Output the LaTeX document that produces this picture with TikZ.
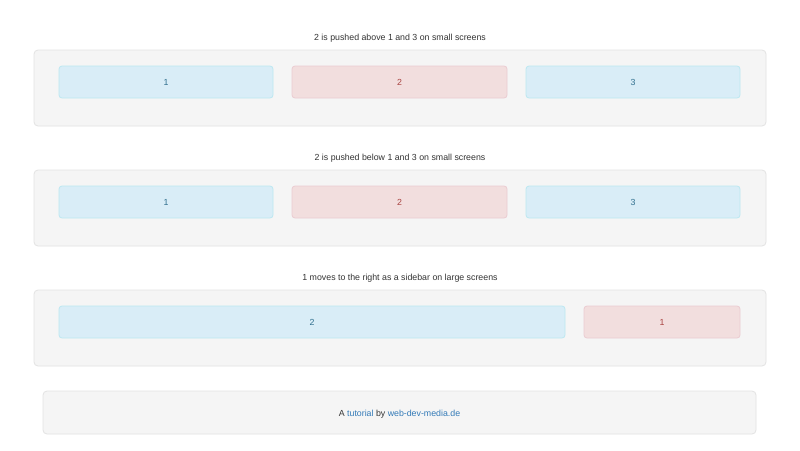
\documentclass[tikz,border=0pt]{standalone}
\usepackage{fontspec}
\setmainfont{Liberation Sans}
\definecolor{wellfill}{HTML}{F5F5F5}
\definecolor{welldraw}{HTML}{E3E3E3}
\definecolor{infofill}{HTML}{D9EDF7}
\definecolor{infodraw}{HTML}{BCE8F1}
\definecolor{infotext}{HTML}{31708F}
\definecolor{dangerfill}{HTML}{F2DEDE}
\definecolor{dangerdraw}{HTML}{EBCCD1}
\definecolor{dangertext}{HTML}{A94442}
\definecolor{bodytext}{HTML}{333333}
\definecolor{linktext}{HTML}{337AB7}
\tikzset{
  well/.style={draw=welldraw, fill=wellfill, rounded corners=4pt, line width=0.8pt, inner sep=0pt},
  infocell/.style={draw=infodraw, fill=infofill, text=infotext, rounded corners=3pt, line width=0.8pt, minimum height=32pt, inner sep=0pt},
  dangercell/.style={draw=dangerdraw, fill=dangerfill, text=dangertext, rounded corners=3pt, line width=0.8pt, minimum height=32pt, inner sep=0pt},
  caption/.style={text=bodytext, inner sep=0pt}
}
\begin{document}
\begin{tikzpicture}[x=1pt, y=-1pt, font=\fontsize{8.8}{10.5}\selectfont]
        \useasboundingbox [fill=white] ( 0, 0 ) rectangle ( 800, 450 );

        % первая строка
        \node [caption] (title1) at ( 400, 38.5 ) {2 is pushed above 1 and 3 on small screens};
        \node [well, minimum width=732pt, minimum height=76pt] (row1) at ( 400, 88 ) {};
        \node [infocell, minimum width=214pt] (r1a) at ( 166, 82 ) {1};
        \node [dangercell, minimum width=215pt] (r1b) at ( 399.5, 82 ) {2};
        \node [infocell, minimum width=214pt] (r1c) at ( 633, 82 ) {3};

        % вторая строка
        \node [caption] (title2) at ( 400, 158.5 ) {2 is pushed below 1 and 3 on small screens};
        \node [well, minimum width=732pt, minimum height=76pt] (row2) at ( 400, 208 ) {};
        \node [infocell, minimum width=214pt] (r2a) at ( 166, 202 ) {1};
        \node [dangercell, minimum width=215pt] (r2b) at ( 399.5, 202 ) {2};
        \node [infocell, minimum width=214pt] (r2c) at ( 633, 202 ) {3};

        % третья строка
        \node [caption] (title3) at ( 400, 278.5 ) {1 moves to the right as a sidebar on large screens};
        \node [well, minimum width=732pt, minimum height=76pt] (row3) at ( 400, 328 ) {};
        \node [infocell, minimum width=506pt] (r3a) at ( 312, 322 ) {2};
        \node [dangercell, minimum width=156pt] (r3b) at ( 662, 322 ) {1};

        % подвал
        \node [well, minimum width=713pt, minimum height=43pt] (footer) at ( 399.5, 412.5 ) {};
        \node [caption, yshift=-1.5pt] (credit) at (footer) {A \textcolor{linktext}{tutorial} by \textcolor{linktext}{web-dev-media.de}};
    \end{tikzpicture}
\end{document}
